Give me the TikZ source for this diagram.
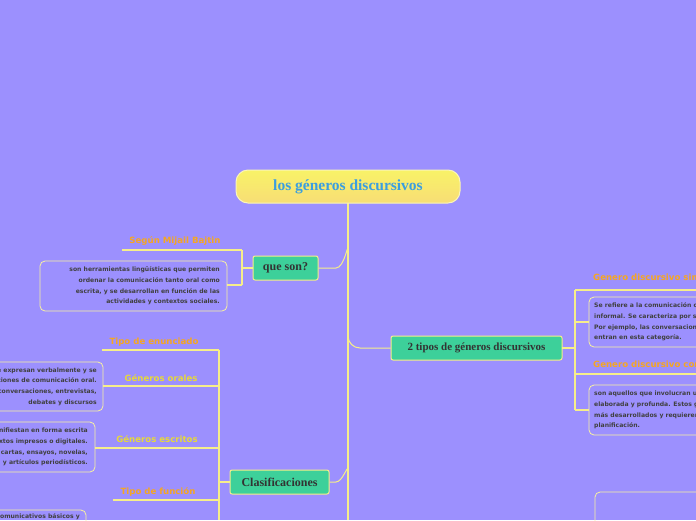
\documentclass[tikz,border=0pt]{standalone}
\usepackage{fontspec}
\setmainfont{Liberation Serif}
\newfontfamily\boxfont{DejaVu Sans}
\definecolor{bg}{HTML}{9C90FE}
\definecolor{ln}{HTML}{F6EE8A}
\definecolor{gr}{HTML}{3DD09A}
\definecolor{org}{HTML}{F5A623}
\definecolor{ylw}{HTML}{E6D83A}
\definecolor{ttl}{HTML}{3A9EE0}
\begin{document}
\begin{tikzpicture}[x=1pt,y=-1pt,
  link/.style={ln,line width=1.6pt},
  topic/.style={draw=ln,line width=1pt,fill=gr,rounded corners=2pt,font=\bfseries\fontsize{12}{13}\selectfont,text=black!80,inner sep=0pt},
  txtbox/.style={draw=ln!80!white,line width=0.8pt,rounded corners=5pt},
  small/.style={font=\boxfont\bfseries\fontsize{6.1}{10.7}\selectfont,text=black!75,inner sep=0pt},
  lbl/.style={font=\boxfont\bfseries\fontsize{8.6}{9}\selectfont,inner sep=0pt}]
\useasboundingbox (0,0) rectangle (696,520);
\fill[bg] (0,0) rectangle (696,520);
\clip (0,0) rectangle (696,520);
% trunk
\draw[link] (348,203) -- (348,520);
% title
\node[draw=ln!60!white,line width=1pt,top color=yellow!25!ln,bottom color=ln!85!orange,rounded corners=12pt,minimum width=224pt,minimum height=33pt,font=\bfseries\fontsize{15.5}{16}\selectfont,text=ttl] (title) at (348,186.5) {los géneros discursivos};
% que son
\node[topic,minimum width=65pt,minimum height=24pt] (que) at (285.5,268) {que son?};
\draw[link,line width=1pt] (que.east) -- (336,268) to[out=0,in=90] (348,250);
\draw[link] (242,250) -- (242,285);
\draw[link] (242,268) -- (que.west);
\draw[link] (242,250) -- (122,250) coordinate (mb);
\node[lbl,text=org] (mbl) at (175,241) {Según Mijail Bajtin};
\draw[link] (242,285) -- (227,285);
\node[txtbox,minimum width=187pt,minimum height=50pt] (qb) at (133.5,286) {};
\node[small,align=right,anchor=east] (qt) at (220,286) {son herramientas lingüísticas que permiten\\ordenar la comunicación tanto oral como\\escrita, y se desarrollan en función de las\\actividades y contextos sociales.};
% Clasificaciones
\node[topic,minimum width=99pt,minimum height=24pt] (cla) at (279.5,482) {Clasificaciones};
\draw[link,line width=1pt] (cla.east) -- (336,482) to[out=0,in=90] (348,470);
\draw[link] (219,350) -- (219,520);
\draw[link] (219,482) -- (cla.west);
\draw[link] (219,350) -- (102,350);
\node[lbl,text=org] (te) at (154,342) {Tipo de enunciado};
\draw[link] (219,386) -- (103,386);
\node[lbl,text=ylw] (go) at (161,378) {Géneros orales};
\node[txtbox,minimum width=110pt,minimum height=49pt] (gob) at (48,386.5) {};
\node[small,align=right,anchor=east] (got) at (97,386.5) {Se expresan verbalmente y se\\dan en situaciones de comunicación oral.\\Ej: conversaciones, entrevistas,\\debates y discursos};
\draw[link] (219,448) -- (95,448);
\node[lbl,text=ylw] (ge) at (157,439) {Géneros escritos};
\node[txtbox,minimum width=110pt,minimum height=50pt] (geb) at (40,447) {};
\node[small,align=right,anchor=east] (get) at (88,447) {Se manifiestan en forma escrita\\en textos impresos o digitales.\\Ej: cartas, ensayos, novelas,\\y artículos periodísticos.};
\draw[link] (219,500) -- (113,500);
\node[lbl,text=org] (tf) at (158,492) {Tipo de función};
\node[txtbox,minimum width=110pt,minimum height=40pt] (tfb) at (31,530) {};
\node[small,align=right,anchor=east] (tft) at (80,517) {Son comunicativos básicos y};
% 2 tipos
\node[topic,minimum width=171pt,minimum height=24pt,font=\bfseries\fontsize{11}{12}\selectfont] (dos) at (476.5,348) {2 tipos de géneros discursivos};
\draw[link,line width=1pt] (dos.west) -- (360,348) to[out=180,in=270] (348,336);
\draw[link] (575,290) -- (575,410);
\draw[link] (562,348) -- (575,348);
\draw[link] (575,290) -- (696,290);
\node[lbl,text=org,anchor=west] (gs) at (593,278) {Genero discursivo simple};
\draw[link] (575,322) -- (589,322);
\node[txtbox,minimum width=130pt,minimum height=50pt] (gsb) at (654,322) {};
\node[small,align=left,anchor=west] (gst) at (594,322) {Se refiere a la comunicación cotidiana e\\informal. Se caracteriza por ser espontáneo.\\Por ejemplo, las conversaciones diarias\\entran en esta categoría.};
\draw[link] (575,374) -- (696,374);
\node[lbl,text=org,anchor=west] (gc) at (593,365) {Genero discursivo complejo};
\draw[link] (575,410) -- (589,410);
\node[txtbox,minimum width=130pt,minimum height=50pt] (gcb) at (654,410) {};
\node[small,align=left,anchor=west] (gct) at (594,410) {son aquellos que involucran una comunicación\\elaborada y profunda. Estos géneros son\\más desarrollados y requieren\\planificación.};
\node[txtbox,minimum width=120pt,minimum height=60pt] (br) at (655,522) {};
\end{tikzpicture}
\end{document}
